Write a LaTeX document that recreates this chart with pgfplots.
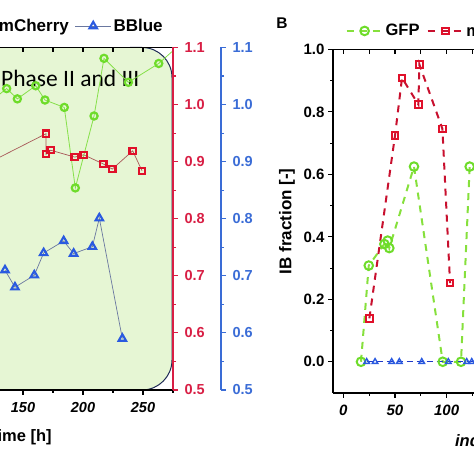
\documentclass[border=0pt]{standalone}
\usepackage{fontspec}
\setmainfont{Liberation Sans}
\newfontfamily\carlito{Carlito}
\usepackage{pgfplots}
\pgfplotsset{compat=1.18}

\definecolor{gfpgreen}{HTML}{6EDC2A}
\definecolor{gfpline}{HTML}{86E04A}
\definecolor{chred}{HTML}{E0102A}
\definecolor{chline}{HTML}{A85858}
\definecolor{bbblue}{HTML}{2A5AE0}
\definecolor{bbline}{HTML}{6A78A0}
\definecolor{axred}{HTML}{D81E44}
\definecolor{axblue}{HTML}{3A6CD6}
\definecolor{phasegreen}{HTML}{E6F6D4}
\definecolor{navy}{HTML}{1E2A55}
\definecolor{rdash}{HTML}{C8102E}
\definecolor{gdash}{HTML}{86E03C}
\definecolor{bdash}{HTML}{2038C8}

\pgfplotsset{
  base/.style={scale only axis,
    /pgf/number format/assume math mode=true,
    major tick length=5bp, minor tick length=3bp,
    axis line style={line width=1.2bp},
    every tick/.style={line width=1.1bp, black},
    xticklabel style={font=\fontsize{14.5bp}{16bp}\selectfont\bfseries\itshape, yshift=-4bp},
    yticklabel style={font=\fontsize{14.5bp}{16bp}\selectfont\bfseries},
    legend image code/.code={\draw[mark repeat=2,mark phase=2,##1] plot coordinates {(0bp,0bp) (18bp,0bp) (36bp,0bp)};},
  },
  leftgeom/.style={at={(-169bp,84bp)}, anchor=south west, width=342bp, height=342.5bp,
    xmin=-10, xmax=275, ymin=0.5, ymax=1.1},
  rightgeom/.style={at={(333bp,81bp)}, anchor=south west, width=268.6bp, height=343.5bp,
    xmin=-10, xmax=250, ymin=-0.1, ymax=1.0},
}

\begin{document}
\begin{tikzpicture}[x=1bp,y=1bp]
\path[use as bounding box, clip] (0,0) rectangle (474,474);

% Phase II and III background
\fill[phasegreen] (-20,84) -- (142,84) arc[start angle=-90,end angle=0,radius=30bp]
   -- (172,396.5) arc[start angle=0,end angle=90,radius=30bp] -- (-20,426.5) -- cycle;
\draw[navy, line width=1bp] (130,84) -- (142,84) arc[start angle=-90,end angle=0,radius=30bp]
   -- (172,396.5) arc[start angle=0,end angle=90,radius=30bp] -- (130,426.5);
\node[anchor=base west, inner sep=0pt, font=\carlito\fontsize{23.5bp}{26bp}\selectfont] at (1,387) {Phase II and III};

% ---------- Panel A ----------
\begin{axis}[base, leftgeom,
  axis x line*=bottom, axis y line*=left, tick align=outside,
  xtick={150,200,250}, minor xtick={125,175,225,275}, ytick=\empty,
  xlabel={Process time [h]},
  xlabel style={at={(axis description cs:0.646,-0.137)}, anchor=east, inner sep=0pt,
    font=\fontsize{16.5bp}{18bp}\selectfont\bfseries},
  legend style={at={(axis description cs:0.985,1.0625)}, anchor=east, draw=none, fill=none,
    font=\fontsize{17bp}{19bp}\selectfont\bfseries, legend columns=-1,
    /tikz/every even column/.append style={column sep=4bp}},
]
\addplot[gfpline, line width=0.8bp, mark=o, mark size=3.6bp, mark options={gfpgreen, line width=2.2bp}]
 coordinates {(122,1.004) (136.4,1.028) (145.3,1.010) (160.6,1.033) (168.3,1.008) (184.4,0.995)
   (193.6,0.854) (209.2,0.980) (217.5,1.081) (237.8,1.039) (263.1,1.072) (285,1.113)};
\addlegendentry{GFP}
\addplot[chline, line width=0.7bp, mark=square, mark size=3.2bp, mark options={chred, line width=2.1bp}]
 coordinates {(113,0.889) (169.2,0.949) (169.2,0.913) (173.1,0.920) (193.1,0.908) (200.6,0.912)
   (216.9,0.896) (224.4,0.887) (241.4,0.919) (249.2,0.884)};
\addlegendentry{mCherry}
\addplot[bbline, line width=0.7bp, mark=triangle, mark size=4.3bp, mark options={bbblue, line width=2.1bp}]
 coordinates {(135,0.710) (143.3,0.680) (159.4,0.701) (167.2,0.740) (183.9,0.761) (192.2,0.739)
   (207.8,0.751) (213.6,0.801) (232.8,0.590)};
\addlegendentry{BBlue}
\end{axis}

% top ticks
\begin{axis}[base, leftgeom, axis x line*=top, axis y line=none, tick align=inside,
  xtick={125,150,175,200,225,250,275}, xticklabels={}]
\end{axis}

% red axis
\begin{axis}[base, leftgeom, axis x line=none, axis y line*=right, tick align=outside,
  ytick={0.5,0.6,0.7,0.8,0.9,1.0,1.1}, minor y tick num=1,
  y axis line style={axred}, every tick/.append style={axred},
  yticklabel style={color=axred, xshift=3bp},
  yticklabel={\pgfmathprintnumber[fixed,fixed zerofill,precision=1]{\tick}}]
\end{axis}

% blue axis
\begin{axis}[base, at={(-121bp,84bp)}, anchor=south west, width=342bp, height=342.5bp,
  xmin=-10, xmax=275, ymin=0.5, ymax=1.1,
  axis x line=none, axis y line*=right, tick align=outside,
  ytick={0.5,0.6,0.7,0.8,0.9,1.0,1.1}, minor y tick num=1,
  y axis line style={axblue}, every tick/.append style={axblue},
  yticklabel style={color=axblue, xshift=3bp},
  yticklabel={\pgfmathprintnumber[fixed,fixed zerofill,precision=1]{\tick}}]
\end{axis}

% ---------- Panel B ----------
\node[anchor=center, inner sep=0pt, font=\fontsize{15.5bp}{17bp}\selectfont\bfseries] at (282,451) {B};

\begin{axis}[base, rightgeom,
  axis x line*=bottom, axis y line*=left, tick align=outside,
  xtick distance=50, minor x tick num=1,
  ytick={0,0.2,0.4,0.6,0.8,1.0}, minor y tick num=1,
  yticklabel style={font=\fontsize{15bp}{17bp}\selectfont\bfseries},
  yticklabel={\pgfmathprintnumber[fixed,fixed zerofill,precision=1]{\tick}},
  xticklabel style={font=\fontsize{15bp}{17bp}\selectfont\bfseries\itshape},
  ylabel={IB fraction [-]},
  ylabel style={at={(axis description cs:-0.171,0.5)}, anchor=center, inner sep=0pt,
    font=\fontsize{17bp}{19bp}\selectfont\bfseries},
  xlabel={induction time [h]},
  xlabel style={at={(axis description cs:0.454,-0.1427)}, anchor=west, inner sep=0pt,
    font=\fontsize{16.5bp}{18bp}\selectfont\bfseries\itshape},
  legend style={at={(axis description cs:0.035,1.054)}, anchor=west, draw=none, fill=none,
    font=\fontsize{16.5bp}{18bp}\selectfont\bfseries, legend columns=-1,
    /tikz/every even column/.append style={column sep=5bp}},
]
\addplot[gdash, line width=2bp, dash pattern=on 7bp off 6bp, mark=o, mark size=4.3bp,
  mark options={solid, gfpgreen, line width=2bp}]
 coordinates {(17.1,0) (24.6,0.308) (39.7,0.377) (42.9,0.388) (44.5,0.364) (68.4,0.625)
   (96.2,0) (113.9,0) (122.3,0.625) (140,0.60)};
\addlegendentry{GFP}
\addplot[rdash, line width=2bp, dash pattern=on 7bp off 6bp, mark=square, mark size=3.3bp,
  mark options={solid, chred, line width=1.9bp}]
 coordinates {(25.2,0.139) (50.0,0.724) (56.8,0.909) (72.6,0.824) (73.6,0.952) (95.9,0.746) (103.3,0.252)};
\addlegendentry{mCherry}
\addplot[bdash, line width=1.3bp, dash pattern=on 6bp off 4bp, mark=triangle, mark size=3.2bp,
  mark options={solid, bbblue, line width=1.4bp}]
 coordinates {(22.6,0) (30.7,0) (46.8,0) (54.2,0) (75.9,0) (101.6,0) (119.4,0) (124.3,0) (140,0)};
\addlegendentry{BBlue}
\end{axis}

\begin{axis}[base, rightgeom, axis x line*=top, axis y line=none, tick align=inside,
  xtick distance=25, xticklabels={}]
\end{axis}
\end{tikzpicture}
\end{document}
